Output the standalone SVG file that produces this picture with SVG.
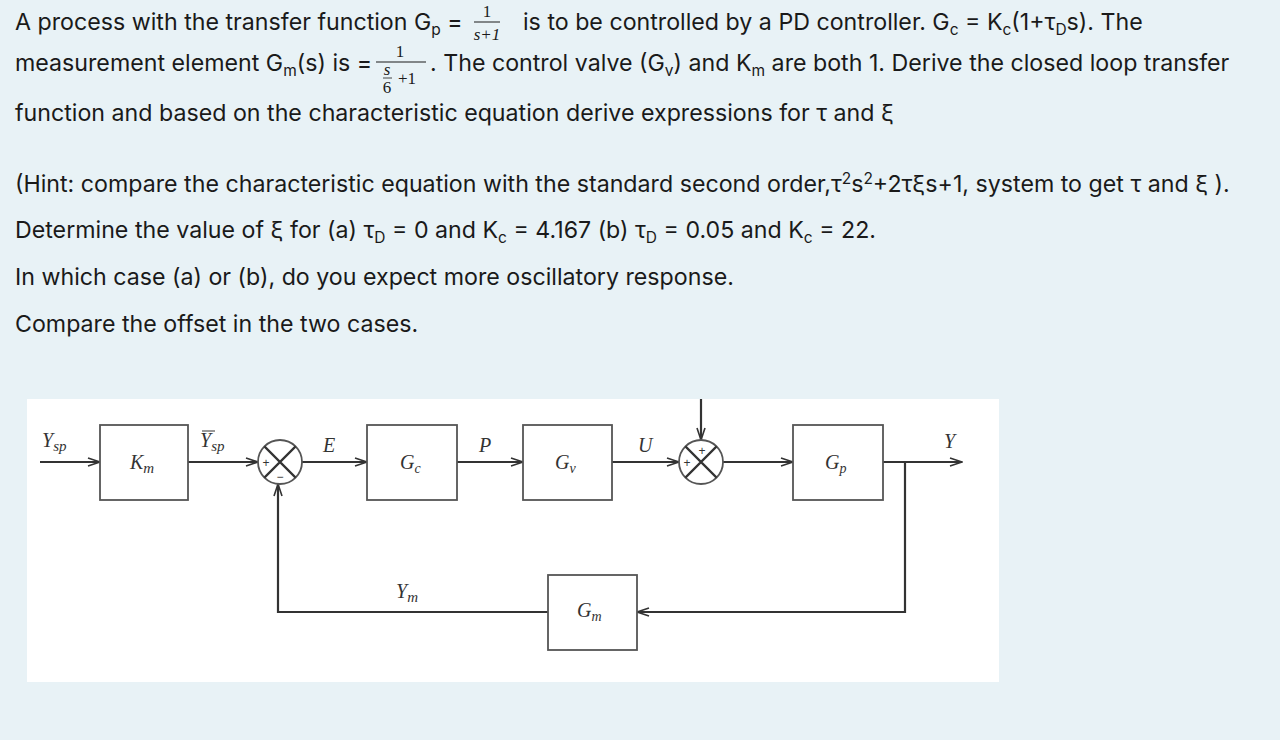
<svg xmlns="http://www.w3.org/2000/svg" width="1280" height="740" viewBox="0 0 1280 740">
<defs>
<marker id="ah" markerWidth="14" markerHeight="10" refX="13" refY="5" orient="auto" markerUnits="userSpaceOnUse"><path d="M1,1 L13,5 L1,9" fill="none" stroke="#333" stroke-width="1.6"/></marker>
</defs>
<style>
.t{font-family:Inter,"Liberation Sans",sans-serif;font-size:23.2px;fill:#1a1a1a}
.s{font-size:15.5px}
.m{font-family:"Liberation Serif",serif;font-style:italic;font-size:20px;fill:#333}
.f{font-family:"Liberation Serif",serif;font-size:17px;fill:#1a1a1a}
.b{fill:#fff;stroke:#555;stroke-width:1.8}
.l{stroke:#333;stroke-width:2.2;fill:none}
</style>
<rect width="1280" height="740" fill="#e8f2f6"/>
<g id="text">
<text class="t" x="15" y="30">A process with the transfer function G<tspan class="s" dy="5">p</tspan><tspan dy="-5"> =</tspan></text>
<text class="f" x="487" y="17" text-anchor="middle">1</text>
<line x1="474" y1="22" x2="500" y2="22" stroke="#1a1a1a" stroke-width="1"/>
<text class="f" x="487" y="40" text-anchor="middle" font-style="italic">s+1</text>
<text class="t" x="523" y="30">is to be controlled by a PD controller. G<tspan class="s" dy="5">c</tspan><tspan dy="-5"> = K</tspan><tspan class="s" dy="5">c</tspan><tspan dy="-5">(1+τ</tspan><tspan class="s" dy="5">D</tspan><tspan dy="-5">s). The</tspan></text>
<text class="t" x="15" y="71">measurement element G<tspan class="s" dy="5">m</tspan><tspan dy="-5">(s) is =</tspan></text>
<text class="f" x="400" y="57" text-anchor="middle">1</text>
<line x1="376" y1="62" x2="426" y2="62" stroke="#1a1a1a" stroke-width="1"/>
<text class="f" x="387" y="75" text-anchor="middle" font-size="10" font-style="italic">s</text>
<line x1="383" y1="78" x2="392" y2="78" stroke="#1a1a1a" stroke-width="0.8"/>
<text class="f" x="387" y="93" text-anchor="middle" font-size="11">6</text>
<text class="f" x="407" y="84" text-anchor="middle">+1</text>
<text class="t" x="430" y="71">. The control valve (G<tspan class="s" dy="5">v</tspan><tspan dy="-5">) and K</tspan><tspan class="s" dy="5">m</tspan><tspan dy="-5"> are both 1. Derive the closed loop transfer</tspan></text>
<text class="t" x="15" y="121">function and based on the characteristic equation derive expressions for τ and ξ</text>
<text class="t" x="15" y="192">(Hint: compare the characteristic equation with the standard second order,τ<tspan class="s" dy="-8">2</tspan><tspan dy="8">s</tspan><tspan class="s" dy="-8">2</tspan><tspan dy="8">+2τξs+1,  system to get τ and ξ ).</tspan></text>
<text class="t" x="15" y="238">Determine the value of ξ for (a) τ<tspan class="s" dy="5">D</tspan><tspan dy="-5"> = 0 and K</tspan><tspan class="s" dy="5">c</tspan><tspan dy="-5"> = 4.167 (b) τ</tspan><tspan class="s" dy="5">D</tspan><tspan dy="-5"> = 0.05 and K</tspan><tspan class="s" dy="5">c</tspan><tspan dy="-5"> = 22.</tspan></text>
<text class="t" x="15" y="285">In which case (a) or (b), do you expect more oscillatory response.</text>
<text class="t" x="15" y="332">Compare the offset in the two cases.</text>
</g>
<rect x="27" y="399" width="972" height="283" fill="#fff"/>
<g id="connectors">
<line class="l" x1="40" y1="462" x2="100" y2="462" marker-end="url(#ah)"/>
<line class="l" x1="188" y1="462" x2="258" y2="462" marker-end="url(#ah)"/>
<line class="l" x1="302" y1="462" x2="367" y2="462" marker-end="url(#ah)"/>
<line class="l" x1="457" y1="462" x2="523" y2="462" marker-end="url(#ah)"/>
<line class="l" x1="612" y1="462" x2="679" y2="462" marker-end="url(#ah)"/>
<line class="l" x1="701" y1="399" x2="701" y2="440" marker-end="url(#ah)"/>
<line class="l" x1="723" y1="462" x2="793" y2="462" marker-end="url(#ah)"/>
<line class="l" x1="883" y1="462" x2="962" y2="462" marker-end="url(#ah)"/>
<polyline class="l" points="905,462 905,612 637,612" marker-end="url(#ah)"/>
<polyline class="l" points="548,612 278,612 278,484" marker-end="url(#ah)"/>
</g>
<g id="labels">
<text class="m" x="42" y="447">Y<tspan font-size="15" dy="4">sp</tspan></text>
<text class="m" x="200" y="447">Y<tspan font-size="15" dy="4">sp</tspan></text>
<line x1="202" y1="431" x2="215" y2="431" stroke="#333" stroke-width="1"/>
<text class="m" x="323" y="452">E</text>
<text class="m" x="479" y="452">P</text>
<text class="m" x="638" y="452">U</text>
<text class="m" x="944" y="448">Y</text>
<text class="m" x="396" y="598">Y<tspan font-size="15" dy="4">m</tspan></text>
</g>
<g id="Km"><rect class="b" x="100" y="425" width="88" height="75"/><text class="m" x="130" y="469">K<tspan font-size="15" dy="4">m</tspan></text></g>
<g id="sum1"><circle class="b" cx="280" cy="462" r="22" stroke="#333"/><path class="l" d="M264.4,446.4 L295.6,477.6 M295.6,446.4 L264.4,477.6" stroke-width="1.6"/><text x="266" y="467" font-family="Liberation Sans,sans-serif" font-size="12" fill="#333" text-anchor="middle">+</text><text x="280" y="481" font-family="Liberation Sans,sans-serif" font-size="12" fill="#333" text-anchor="middle">−</text></g>
<g id="Gc"><rect class="b" x="367" y="425" width="90" height="75"/><text class="m" x="400" y="469">G<tspan font-size="14" dy="4">c</tspan></text></g>
<g id="Gv"><rect class="b" x="523" y="425" width="89" height="75"/><text class="m" x="555" y="469">G<tspan font-size="14" dy="4">v</tspan></text></g>
<g id="sum2"><circle class="b" cx="701" cy="462" r="22" stroke="#333"/><path class="l" d="M685.4,446.4 L716.6,477.6 M716.6,446.4 L685.4,477.6" stroke-width="1.6"/><text x="687" y="467" font-family="Liberation Sans,sans-serif" font-size="12" fill="#333" text-anchor="middle">+</text><text x="702" y="455" font-family="Liberation Sans,sans-serif" font-size="12" fill="#333" text-anchor="middle">+</text></g>
<g id="Gp"><rect class="b" x="793" y="425" width="90" height="75"/><text class="m" x="825" y="469">G<tspan font-size="14" dy="4">p</tspan></text></g>
<g id="Gm"><rect class="b" x="548" y="575" width="89" height="75"/><text class="m" x="577" y="617">G<tspan font-size="14" dy="4">m</tspan></text></g>
</svg>
